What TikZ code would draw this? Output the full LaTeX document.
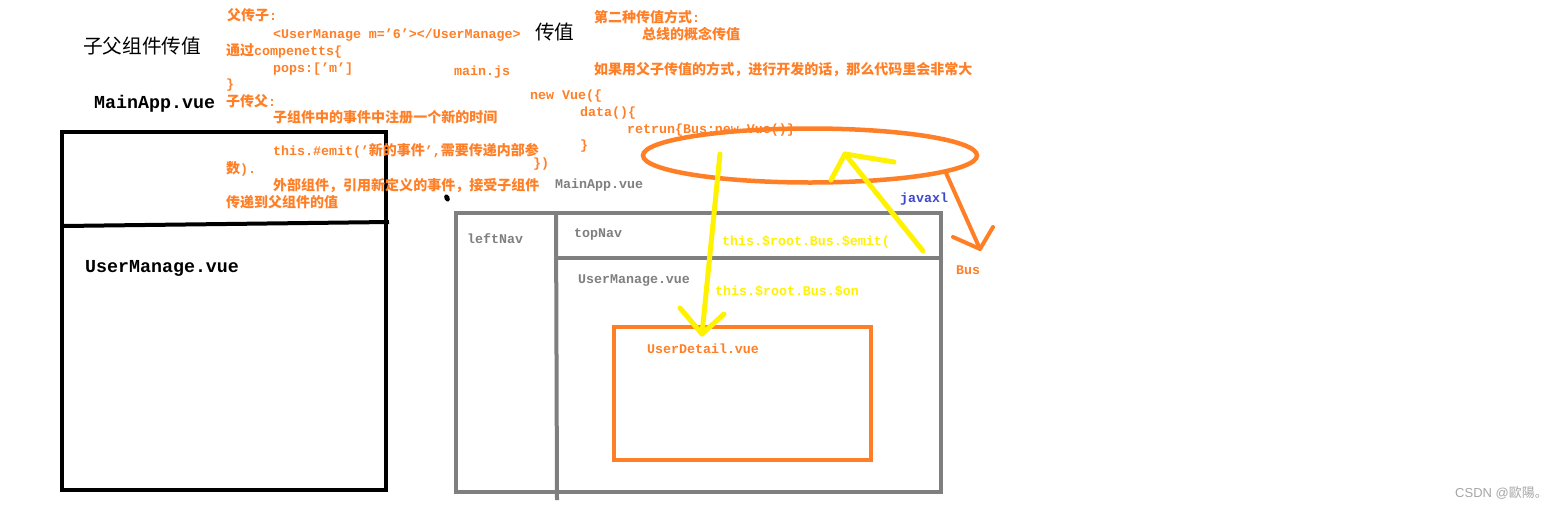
\documentclass[tikz,border=0pt]{standalone}
\usepackage{fontspec}
\setmonofont{Liberation Mono}
\newfontfamily\zhf[Scale=1.053]{Noto Sans CJK SC}
\newfontfamily\wmzh{Noto Sans CJK SC}
\newfontfamily\wmlat{Liberation Sans}
\newcommand\Z[1]{{\zhf #1}}
\usetikzlibrary{shapes.geometric}
\definecolor{pOrange}{HTML}{FF7F27}
\definecolor{pYellow}{HTML}{FFF200}
\definecolor{pGray}{HTML}{7F7F7F}
\definecolor{pBlue}{HTML}{3F48CC}
\definecolor{wmGray}{HTML}{A6A6A6}
\tikzset{
  txt/.style={anchor=base west, inner sep=0pt, font=\ttfamily\bfseries\fontsize{13.3}{16}\selectfont},
  otxt/.style={txt, text=pOrange},
  gtxt/.style={txt, text=pGray},
  ytxt/.style={txt, text=pYellow},
  btxt/.style={txt, text=pBlue},
  bigtxt/.style={anchor=base west, inner sep=0pt, font=\ttfamily\bfseries\fontsize{18.3}{22}\selectfont, text=black},
  bigzh/.style={anchor=base west, inner sep=0pt, font=\zhf\fontsize{18.7}{22}\selectfont, text=black},
  blackbox/.style={draw=black, line width=4pt, rectangle, inner sep=0pt},
  graybox/.style={draw=pGray, line width=4pt, rectangle, inner sep=0pt},
  orangebox/.style={draw=pOrange, line width=4.5pt, rectangle, inner sep=0pt},
  busring/.style={draw=pOrange, line width=4.5pt, ellipse, inner sep=0pt},
  yline/.style={draw=pYellow, line width=5pt, line cap=round, line join=round},
  oline/.style={draw=pOrange, line width=4pt, line cap=round, line join=round},
  kline/.style={draw=black, line width=4pt},
  gline/.style={draw=pGray, line width=4pt},
}
\begin{document}
\begin{tikzpicture}[x=1pt, y=-1pt]
\useasboundingbox (0,0) rectangle (1560,509);
\fill[white] (0,0) rectangle (1560,509);

% left black structure
\node[bigzh] (t1) at (83,53.5) {子父组件传值};
\node[bigtxt] (t2) at (94,108) {MainApp.vue};
\node[blackbox, minimum width=324pt, minimum height=358pt] (mainbox) at (224,311) {};
\coordinate (kl) at (63,226);
\coordinate (kr) at (389,222);
\draw[kline] (kl) -- (kr);
\node[bigtxt] (t3) at (85,272) {UserManage.vue};

% left orange text block
\node[otxt] (o1) at (227,20) {\Z{父传子}:};
\node[otxt] (o2) at (273,38) {<UserManage m=’6’></UserManage>};
\node[otxt] (o3) at (226,55) {\Z{通过}compenetts\{};
\node[otxt] (o4) at (273,72) {pops:[’m’]};
\node[otxt] (o5) at (226,88) {\}};
\node[otxt] (o6) at (226,106) {\Z{子传父}:};
\node[otxt] (o7) at (273,122) {\Z{子组件中的事件中注册一个新的时间}};
\node[otxt] (o8) at (273,155) {this.\#emit(’\Z{新的事件}’,\Z{需要传递内部参}};
\node[otxt] (o9) at (226,173) {\Z{数}).};
\node[otxt] (o10) at (273,190) {\Z{外部组件，引用新定义的事件，接受子组件}};
\node[otxt] (o11) at (226,207) {\Z{传递到父组件的值}};

% middle titles
\node[bigzh] (t4) at (535,39.5) {传值};
\node[otxt] (mj) at (454,75) {main.js};
\node[otxt] (r1) at (594,22) {\Z{第二种传值方式}:};
\node[otxt] (r2) at (642,39) {\Z{总线的概念传值}};
\node[otxt] (r3) at (594,74) {\Z{如果用父子传值的方式，进行开发的话，那么代码里会非常大}};
\node[otxt] (c1) at (530,99) {new Vue(\{};
\node[otxt] (c2) at (580,116) {data()\{};
\node[otxt] (c3) at (627,133) {retrun\{Bus:new Vue()\}};
\node[otxt] (c4) at (580,149) {\}};
\node[otxt] (c5) at (533,167) {\})};
\node[gtxt] (g0) at (555,188) {MainApp.vue};
\fill[black, rotate around={25:(447,198)}] (447,198) ellipse (2.6pt and 3.8pt);
\node[btxt] (jx) at (900,202) {javaxl};

% gray app layout
\node[graybox, minimum width=485pt, minimum height=279pt] (app) at (698.5,352.5) {};
\coordinate (vt) at (556,213);
\coordinate (vb) at (557,500);
\draw[gline] (vt) -- (vb);
\coordinate (hl) at (558,258);
\coordinate (hr) at (942,258);
\draw[gline] (hl) -- (hr);
\node[gtxt] (g1) at (467,243) {leftNav};
\node[gtxt] (g2) at (574,237) {topNav};
\node[gtxt] (g3) at (578,283) {UserManage.vue};
\node[ytxt] (y1) at (722,245) {this.\$root.Bus.\$emit(};
\node[ytxt] (y2) at (715,295) {this.\$root.Bus.\$on};

% user detail
\node[orangebox, minimum width=257pt, minimum height=133pt] (detail) at (742.5,393.5) {};
\node[otxt] (d1) at (647,353) {UserDetail.vue};

% bus ellipse
\node[busring, minimum width=334pt, minimum height=54pt] (bus) at (810,155.5) {};
\node[otxt] (busl) at (956,274) {Bus};

% yellow arrows
\coordinate (ya0) at (720,154);
\coordinate (ya1) at (702,334);
\coordinate (yah1) at (680,308);
\coordinate (yah2) at (724,314);
\draw[yline] (ya0) -- (ya1);
\draw[yline] (yah1) -- (ya1) -- (yah2);
\coordinate (yb0) at (923,251);
\coordinate (yb1) at (845,154);
\coordinate (ybh1) at (831,180);
\coordinate (ybh2) at (894,162);
\draw[yline] (yb0) -- (yb1);
\draw[yline] (ybh1) -- (yb1) -- (ybh2);

% orange bus arrow
\coordinate (ob0) at (946,173);
\coordinate (ob1) at (980,249);
\coordinate (obh1) at (953,237);
\coordinate (obh2) at (993,227);
\draw[oline] (ob0) -- (ob1);
\draw[oline] (obh1) -- (ob1) -- (obh2);

% watermark
\node[anchor=base west, inner sep=0pt, text=wmGray, font=\fontsize{13}{15}\selectfont] (wm) at (1455,497) {\wmlat CSDN @\wmzh 歐陽。};
\end{tikzpicture}
\end{document}
